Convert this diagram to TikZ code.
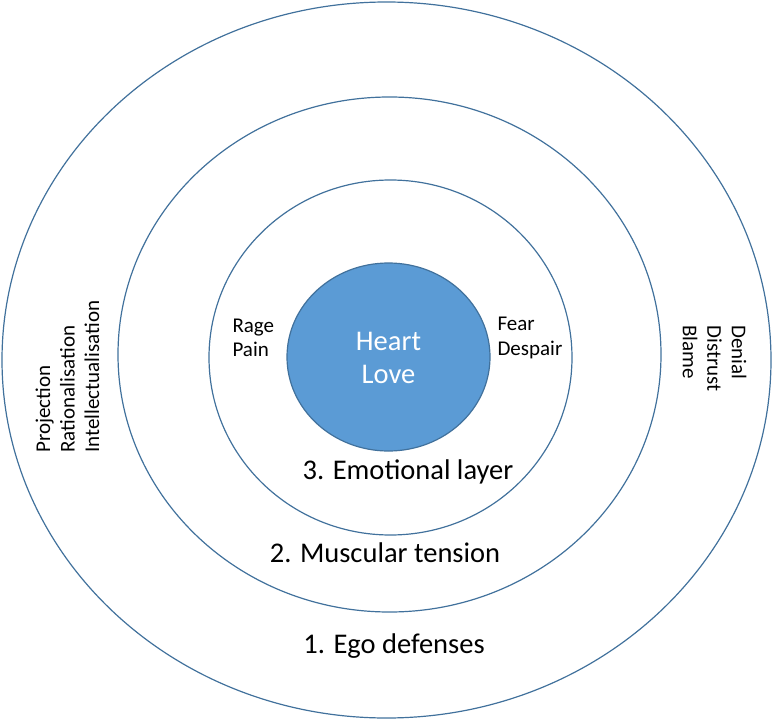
\documentclass[tikz,border=0pt]{standalone}
\usepackage{fontspec}
\setmainfont{Carlito}
\definecolor{ln}{HTML}{41719C}
\definecolor{cf}{HTML}{5B9BD5}
\begin{document}
\begin{tikzpicture}[x=1pt,y=-1pt,
  ring/.style={draw=ln,line width=1.2pt},
  big/.style={font=\fontsize{28.5}{33}\selectfont},
  small/.style={font=\fontsize{21}{24.5}\selectfont,align=left}]
\useasboundingbox (0,0) rectangle (772,720);
\draw[ring] (386.5,360) ellipse [x radius=384.5,y radius=358];
\draw[ring] (389.5,354.5) ellipse [x radius=271.5,y radius=257.5];
\draw[ring] (390.5,357.5) ellipse [x radius=181.5,y radius=177.5];
\draw[ring,fill=cf] (388.5,357) ellipse [x radius=101.5,y radius=94];
\node[big,text=white,align=center] (core) at (388.5,358) {Heart\\Love};
\node[big] (l3) at (408,472) {3. Emotional layer};
\node[big] (l2) at (385,553) {2. Muscular tension};
\node[big] (l1) at (394,646) {1. Ego defenses};
\node[small,anchor=west] (rp) at (229,338) {Rage\\Pain};
\node[small,anchor=west] (fd) at (494,338) {Fear\\Despair};
\node[small,rotate=90,anchor=north west] (left) at (32,456) {Projection\\Rationalisation\\Intellectualisation};
\node[small,rotate=-90,anchor=north west] (right) at (750,322) {Denial\\Distrust\\Blame};
\end{tikzpicture}
\end{document}
